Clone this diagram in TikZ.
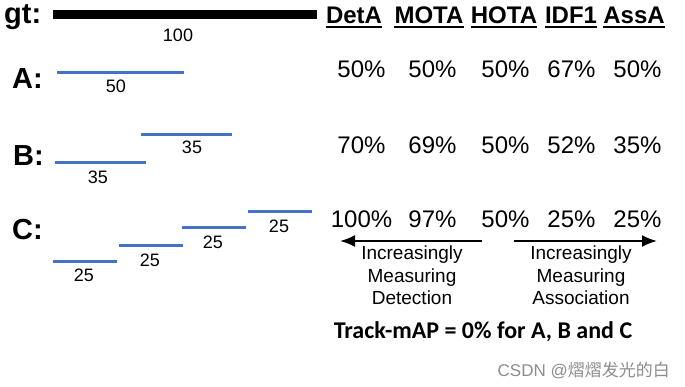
\documentclass[tikz,border=0pt]{standalone}
\usepackage{fontspec}
\setmainfont{Liberation Sans}
\newfontfamily\calibfont{Carlito}
\newfontfamily\cjkfont{Noto Sans CJK SC}
\usetikzlibrary{arrows.meta}
\definecolor{segblue}{HTML}{4472C4}
\tikzset{
  rowlabel/.style={anchor=base west, inner sep=0pt, font=\fontsize{29}{32}\selectfont\bfseries},
  metric/.style={anchor=base, inner sep=0pt, font=\fontsize{24}{28}\selectfont\bfseries},
  score/.style={anchor=base, inner sep=0pt, font=\fontsize{24}{28}\selectfont},
  seglen/.style={anchor=base, inner sep=0pt, font=\fontsize{18}{20}\selectfont},
  seg/.style={segblue, line width=3pt},
  trend/.style={line width=2pt, -{Latex[length=15pt,width=12pt]}},
  trendtext/.style={anchor=north, inner sep=0pt, align=center, font=\fontsize{19}{22.5}\selectfont},
}
\begin{document}
\begin{tikzpicture}[x=1pt,y=-1pt]
\useasboundingbox (0,0) rectangle (685,387);
% row labels
\node[rowlabel] (gt) at (4,24) {gt:};
\node[rowlabel] (rowA) at (12,89) {A:};
\node[rowlabel] (rowB) at (13,166) {B:};
\node[rowlabel] (rowC) at (12,240) {C:};
% ground truth
\draw[line width=9pt] (53,15) -- (317,15);
\node[seglen] (lenGt) at (178,42) {100};
% tracker A
\draw[seg] (57,73) -- (184,73);
\node[seglen] (lenA) at (116,92.5) {50};
% tracker B
\draw[seg] (141,135) -- (232,135);
\node[seglen] (lenB2) at (192,154) {35};
\draw[seg] (55,163) -- (146,163);
\node[seglen] (lenB1) at (98,184) {35};
% tracker C
\draw[seg] (53,262) -- (117,262);
\node[seglen] (lenC1) at (84,281) {25};
\draw[seg] (119,246) -- (183,246);
\node[seglen] (lenC2) at (150,266) {25};
\draw[seg] (182,228) -- (246,228);
\node[seglen] (lenC3) at (213,249) {25};
\draw[seg] (248,212) -- (312,212);
\node[seglen] (lenC4) at (279,233) {25};
% metric headers
\foreach \name/\x/\lbl in {detA/354/DetA, mota/429/MOTA, hota/504/HOTA, idf/571/IDF1, assA/634/AssA} {
  \node[metric] (\name) at (\x,23.5) {\lbl};
  \draw[line width=1.8pt] ([yshift=-3.5pt]\name.base west) -- ([yshift=-3.5pt]\name.base east);
}
% scores
\foreach \row/\y/\p/\q/\r/\s/\t in {a/78/50/50/50/67/50, b/154/70/69/50/52/35, c/228/100/97/50/25/25} {
  \node[score] (\row1) at (361.5,\y) {\p\%};
  \node[score] (\row2) at (432.5,\y) {\q\%};
  \node[score] (\row3) at (505.5,\y) {\r\%};
  \node[score] (\row4) at (571.5,\y) {\s\%};
  \node[score] (\row5) at (637.5,\y) {\t\%};
}
% trends
\coordinate (detFrom) at (482,241);
\coordinate (detTo) at (340,241);
\coordinate (assFrom) at (514,241);
\coordinate (assTo) at (657,241);
\draw[trend] (detFrom) -- (detTo);
\draw[trend] (assFrom) -- (assTo);
\node[trendtext] (detText) at (412,246) {Increasingly\\Measuring\\Detection};
\node[trendtext] (assText) at (581,246) {Increasingly\\Measuring\\Association};
\node[anchor=base, inner sep=0pt, font=\calibfont\bfseries\fontsize{24}{28}\selectfont] (mapNote) at (483,338) {Track-mAP = 0\% for A, B and C};
\node[anchor=base east, inner sep=0pt, text=black!45, font=\fontsize{17}{20}\selectfont] (mark) at (670,376) {CSDN @{\cjkfont 熠熠发光的白}};
\end{tikzpicture}
\end{document}
